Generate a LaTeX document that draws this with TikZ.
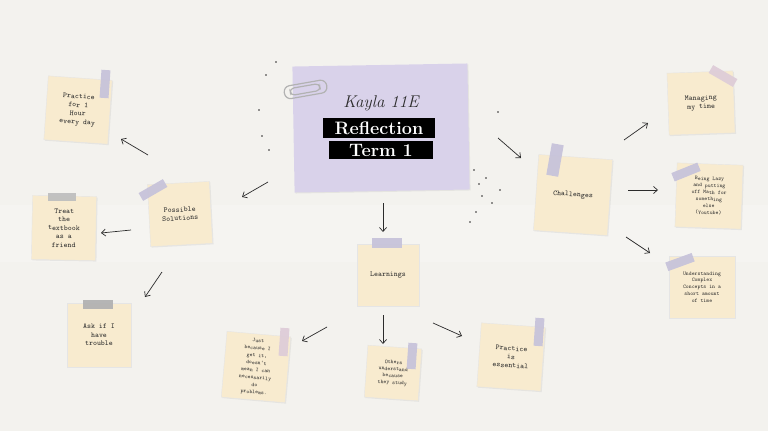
\documentclass[tikz,border=0pt]{standalone}
\usepackage{fontspec}
\usepackage{tikz}
\usetikzlibrary{shadows,arrows.meta}

\definecolor{paper}{HTML}{F3F2EE}
\definecolor{notey}{HTML}{F8EBCF}
\definecolor{lilac}{HTML}{D9D2EA}
\definecolor{tapeg}{HTML}{C7C3DA}
\definecolor{tapep}{HTML}{DECDD8}
\definecolor{inkk}{HTML}{2B2B2B}

\tikzset{
  note/.style={fill=notey, draw=black!10, align=center, minimum width=64pt,
    minimum height=64pt, inner sep=2pt, text=inkk,
    font=\ttfamily\fontsize{7.5}{8.5}\selectfont,
    drop shadow={opacity=0.12, shadow xshift=1pt, shadow yshift=-1pt}},
  tiny/.style={font=\ttfamily\fontsize{5.5}{6.8}\selectfont},
  tape/.style={fill=tapeg, opacity=0.95, minimum width=28pt, minimum height=9pt, inner sep=0pt},
  arr/.style={-{Straight Barb[length=4pt,width=7pt]}, inkk, line width=0.7pt},
  title/.style={fill=black, text=white, inner sep=0pt, font=\bfseries\fontsize{18}{18}\selectfont},
  speck/.style={fill=inkk},
}

\begin{document}
\begin{tikzpicture}[x=1pt,y=-1pt]
\useasboundingbox (0,0) rectangle (768,431);
\fill[paper] (0,0) rectangle (768,431);
\fill[white, opacity=0.2] (0,205) rectangle (768,262);

% main note
\node[fill=lilac, rotate=1, minimum width=175pt, minimum height=126pt,
  drop shadow={opacity=0.12, shadow xshift=1pt, shadow yshift=-1pt}] (main) at (381,128) {};
\draw[black!30, line width=1.2pt, rounded corners=6pt, rotate around={10:(305,89)}]
  (284,83) rectangle (327,96);
\draw[black!30, line width=1.2pt, rounded corners=4pt, rotate around={10:(305,89)}]
  (290,86) rectangle (320,93);
\node[font=\itshape\fontsize{17}{17}\selectfont, text=inkk] (name) at (381,103) {Kayla 11E};
\node[title, minimum width=112pt, minimum height=20pt] (refl) at (379,128) {Reflection};
\node[title, minimum width=104pt, minimum height=18pt] (term) at (381,150) {Term 1};

% specks
\foreach \p in {(266,75),(259,110),(262,136),(269,150),(276,62),(474,170),(479,184),
  (486,178),(482,196),(492,203),(476,212),(500,190),(470,222),(498,112)}
  \fill[speck] \p circle (0.8);

% left side
\node[note, rotate=-4] (prac) at (78,110) {Practice\\for 1\\Hour\\every day};
\node[tape, rotate=86] (tp1) at (105,84) {};
\node[note, rotate=3, minimum width=62pt, minimum height=62pt] (sol) at (180,214) {Possible\\Solutions};
\node[tape, rotate=30] (tp2) at (153,190) {};
\node[note, rotate=-1] (treat) at (64,228) {Treat\\the\\textbook\\as a\\friend};
\node[tape, fill=black!25, minimum height=8pt] (tp3) at (62,197) {};
\node[note] (ask) at (99,335) {Ask if I\\have\\trouble};
\node[tape, fill=black!30, minimum width=30pt] (tp4) at (98,304) {};

% middle
\node[note, minimum width=62pt, minimum height=62pt] (learn) at (388,275) {Learnings};
\node[tape, minimum width=30pt, minimum height=10pt] (tp5) at (387,243) {};
\node[note, rotate=-5, font=\ttfamily\fontsize{5.5}{7.4}\selectfont, minimum height=66pt] (just) at (256,367)
  {Just\\because I\\get it,\\doesn't\\mean I can\\necessarily\\do\\problems.};
\node[tape, fill=tapep, rotate=86] (tp6) at (284,342) {};
\node[note, rotate=-4, tiny, minimum width=54pt, minimum height=52pt] (others) at (393,373)
  {Others\\understand\\because\\they study};
\node[tape, rotate=86, minimum width=26pt] (tp7) at (412,356) {};
\node[note, rotate=-4] (ess) at (511,357) {Practice\\is\\essential};
\node[tape, rotate=86] (tp8) at (539,332) {};

% right side
\node[note, rotate=-4, minimum width=74pt, minimum height=76pt] (chall) at (573,195) {Challenges};
\node[tape, rotate=80, minimum width=32pt, minimum height=12pt] (tp9) at (555,160) {};
\node[note, rotate=2, minimum width=66pt, minimum height=62pt] (time) at (701,103) {Managing\\my time};
\node[tape, fill=tapep, rotate=-30] (tp10) at (723,76) {};
\node[note, rotate=-2, tiny, minimum width=66pt] (lazy) at (709,196)
  {Being Lazy\\and putting\\off Math for\\something\\else\\(Youtube)};
\node[tape, rotate=22] (tp11) at (686,172) {};
\node[note, tiny, minimum width=66pt, minimum height=62pt] (under) at (702,287)
  {Understanding\\Complex\\Concepts in a\\short amount\\of time};
\node[tape, rotate=20] (tp12) at (680,262) {};

% arrows
\coordinate (a1) at (148,155); \coordinate (b1) at (121,139);
\coordinate (a2) at (268,182); \coordinate (b2) at (242,197);
\coordinate (a3) at (131,230); \coordinate (b3) at (101,233);
\coordinate (a4) at (162,272); \coordinate (b4) at (145,297);
\coordinate (a5) at (383,203); \coordinate (b5) at (383,232);
\coordinate (a6) at (327,327); \coordinate (b6) at (302,341);
\coordinate (a7) at (383,315); \coordinate (b7) at (383,344);
\coordinate (a8) at (433,323); \coordinate (b8) at (462,336);
\coordinate (a9) at (498,138); \coordinate (b9) at (521,158);
\coordinate (a10) at (624,140); \coordinate (b10) at (648,123);
\coordinate (a11) at (628,190); \coordinate (b11) at (658,190);
\coordinate (a12) at (626,237); \coordinate (b12) at (650,253);
\foreach \i in {1,...,12}
  \draw[arr] (a\i) -- (b\i);

\end{tikzpicture}
\end{document}
